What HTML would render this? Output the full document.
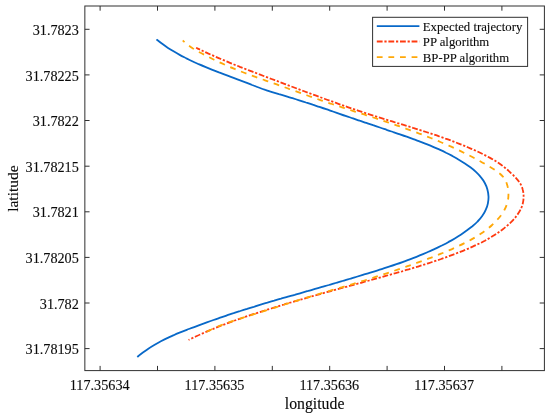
<!DOCTYPE html>
<html><head><meta charset="utf-8"><title>Trajectory</title>
<style>html,body{margin:0;padding:0;background:#fff}</style></head>
<body>
<svg width="550" height="416" viewBox="0 0 550 416" style="display:block;font-family:'Liberation Serif',serif">
<rect width="550" height="416" fill="#fff"/>
<path d="M156.5 39.4C157.5 40.2 160.2 42.4 162.2 43.8C164.1 45.2 166.0 46.6 168.0 47.9C170.0 49.2 172.0 50.4 174.0 51.6C176.0 52.8 178.1 54.0 180.1 55.1C182.2 56.3 184.3 57.3 186.4 58.4C188.5 59.4 190.7 60.5 192.8 61.5C194.9 62.5 197.1 63.4 199.3 64.4C201.4 65.3 203.6 66.2 205.8 67.1C208.0 68.0 210.2 68.9 212.4 69.8C214.6 70.7 216.8 71.5 219.0 72.4C221.2 73.2 223.4 74.1 225.6 74.9C227.8 75.7 230.0 76.6 232.2 77.4C234.4 78.2 236.6 79.1 238.8 79.9C241.0 80.7 243.3 81.6 245.5 82.4C247.7 83.3 249.9 84.1 252.1 85.0C254.3 85.8 256.5 86.7 258.7 87.5C260.9 88.3 263.1 89.1 265.4 89.9C267.6 90.6 269.8 91.4 272.1 92.1C274.4 92.8 276.6 93.5 278.9 94.2C281.1 94.8 283.4 95.5 285.7 96.2C287.9 96.9 290.2 97.5 292.5 98.2C294.7 98.9 297.0 99.6 299.2 100.3C301.5 101.0 303.8 101.7 306.0 102.5C308.2 103.2 310.5 103.9 312.7 104.7C315.0 105.4 317.2 106.2 319.5 106.9C321.7 107.7 323.9 108.5 326.2 109.2C328.4 110.0 330.6 110.7 332.9 111.5C335.1 112.3 337.3 113.1 339.6 113.8C341.8 114.6 344.0 115.4 346.3 116.1C348.5 116.9 350.8 117.6 353.0 118.4C355.2 119.2 357.5 119.9 359.7 120.7C361.9 121.4 364.2 122.2 366.4 122.9C368.7 123.7 370.9 124.4 373.1 125.2C375.4 126.0 377.6 126.7 379.9 127.5C382.1 128.2 384.3 129.0 386.6 129.8C388.8 130.5 391.0 131.3 393.3 132.1C395.5 132.8 397.7 133.6 400.0 134.4C402.2 135.2 404.4 136.0 406.7 136.7C408.9 137.5 411.1 138.3 413.3 139.1C415.6 139.9 417.8 140.8 420.0 141.6C422.2 142.4 424.4 143.3 426.6 144.1C428.8 145.0 431.0 145.9 433.1 146.8C435.3 147.7 437.5 148.7 439.6 149.6C441.8 150.6 443.9 151.6 446.0 152.7C448.1 153.7 450.2 154.8 452.3 155.9C454.3 157.1 456.4 158.2 458.4 159.5C460.5 160.7 462.5 161.9 464.5 163.2C466.5 164.5 468.5 165.9 470.4 167.3C472.3 168.7 474.1 170.2 475.9 171.9C477.6 173.5 479.3 175.2 480.8 177.1C482.3 178.9 483.7 180.9 484.8 183.0C485.9 185.0 486.8 187.2 487.4 189.5C488.0 191.7 488.4 194.1 488.5 196.4C488.6 198.7 488.4 201.0 487.9 203.3C487.5 205.5 486.7 207.8 485.7 209.9C484.8 212.1 483.6 214.1 482.2 216.1C480.9 218.0 479.3 219.8 477.6 221.5C476.0 223.2 474.2 224.8 472.4 226.3C470.5 227.8 468.6 229.2 466.7 230.6C464.7 232.0 462.8 233.4 460.8 234.7C458.8 236.0 456.8 237.2 454.8 238.4C452.8 239.6 450.7 240.8 448.6 241.9C446.6 243.1 444.5 244.2 442.4 245.3C440.2 246.3 438.1 247.4 436.0 248.4C433.8 249.4 431.7 250.4 429.5 251.3C427.4 252.3 425.2 253.2 423.0 254.1C420.8 255.0 418.7 255.9 416.5 256.8C414.3 257.7 412.1 258.5 409.9 259.3C407.7 260.2 405.4 261.0 403.2 261.8C401.0 262.6 398.8 263.4 396.5 264.1C394.3 264.9 392.1 265.7 389.8 266.4C387.6 267.2 385.3 267.9 383.1 268.6C380.8 269.3 378.6 270.1 376.3 270.8C374.1 271.5 371.8 272.2 369.5 272.9C367.3 273.6 365.0 274.2 362.8 274.9C360.5 275.6 358.2 276.3 356.0 277.0C353.7 277.7 351.4 278.3 349.2 279.0C346.9 279.7 344.6 280.3 342.4 281.0C340.1 281.7 337.8 282.3 335.6 283.0C333.3 283.7 331.0 284.3 328.8 285.0C326.5 285.6 324.2 286.3 322.0 286.9C319.7 287.6 317.4 288.3 315.1 288.9C312.9 289.6 310.6 290.2 308.3 290.9C306.1 291.5 303.8 292.2 301.5 292.8C299.2 293.5 297.0 294.1 294.7 294.8C292.4 295.4 290.1 296.1 287.9 296.7C285.6 297.4 283.3 298.0 281.0 298.7C278.8 299.3 276.5 300.0 274.2 300.7C272.0 301.3 269.7 302.0 267.4 302.7C265.2 303.3 262.9 304.0 260.6 304.7C258.4 305.4 256.1 306.1 253.8 306.8C251.6 307.4 249.3 308.1 247.1 308.9C244.8 309.6 242.6 310.3 240.3 311.0C238.1 311.7 235.8 312.4 233.6 313.2C231.3 313.9 229.1 314.7 226.9 315.4C224.6 316.2 222.4 316.9 220.2 317.7C217.9 318.5 215.7 319.3 213.5 320.0C211.2 320.8 209.0 321.6 206.8 322.4C204.6 323.2 202.3 324.0 200.1 324.8C197.9 325.6 195.7 326.5 193.5 327.3C191.2 328.1 189.0 329.0 186.8 329.8C184.6 330.7 182.4 331.5 180.2 332.4C178.0 333.3 175.8 334.2 173.7 335.2C171.5 336.1 169.4 337.1 167.2 338.1C165.1 339.1 163.0 340.2 160.9 341.3C158.8 342.4 156.8 343.5 154.7 344.7C152.7 345.9 150.7 347.1 148.7 348.4C146.7 349.7 144.8 351.1 142.9 352.5C141.0 353.9 138.2 356.2 137.3 357.0" fill="none" stroke="#0868C8" stroke-width="1.8" stroke-linejoin="round"/>
<path d="M196.1 47.8C197.2 48.3 200.2 49.8 202.3 50.7C204.3 51.7 206.4 52.6 208.5 53.6C210.5 54.5 212.6 55.4 214.7 56.3C216.8 57.2 218.9 58.1 220.9 59.0C223.0 59.9 225.1 60.8 227.2 61.6C229.3 62.5 231.4 63.4 233.5 64.2C235.6 65.1 237.7 65.9 239.8 66.8C241.9 67.6 244.0 68.4 246.2 69.3C248.3 70.1 250.4 70.9 252.5 71.7C254.6 72.5 256.7 73.3 258.9 74.2C261.0 75.0 263.1 75.8 265.2 76.6C267.4 77.4 269.5 78.2 271.6 79.0C273.7 79.8 275.9 80.6 278.0 81.4C280.1 82.2 282.2 83.0 284.4 83.8C286.5 84.6 288.6 85.4 290.7 86.2C292.9 87.0 295.0 87.8 297.1 88.6C299.2 89.4 301.4 90.2 303.5 91.0C305.6 91.8 307.7 92.6 309.9 93.4C312.0 94.2 314.1 95.0 316.2 95.7C318.4 96.5 320.5 97.3 322.6 98.1C324.8 98.9 326.9 99.7 329.0 100.4C331.2 101.2 333.3 102.0 335.4 102.7C337.6 103.5 339.7 104.3 341.8 105.0C344.0 105.8 346.1 106.5 348.3 107.3C350.4 108.0 352.6 108.7 354.7 109.5C356.9 110.2 359.0 110.9 361.2 111.6C363.3 112.4 365.5 113.1 367.6 113.8C369.8 114.5 371.9 115.2 374.1 115.9C376.3 116.6 378.4 117.2 380.6 117.9C382.8 118.6 384.9 119.3 387.1 119.9C389.3 120.6 391.4 121.2 393.6 121.9C395.8 122.6 397.9 123.2 400.1 123.9C402.3 124.5 404.5 125.2 406.6 125.9C408.8 126.5 411.0 127.2 413.1 127.9C415.3 128.5 417.5 129.2 419.6 129.9C421.8 130.6 424.0 131.3 426.1 132.0C428.3 132.7 430.5 133.4 432.6 134.1C434.8 134.8 436.9 135.5 439.1 136.3C441.2 137.0 443.4 137.8 445.5 138.6C447.6 139.3 449.8 140.1 451.9 140.9C454.0 141.7 456.1 142.5 458.2 143.4C460.4 144.2 462.5 145.0 464.6 145.9C466.7 146.8 468.7 147.7 470.8 148.6C472.9 149.5 475.0 150.4 477.0 151.3C479.1 152.3 481.1 153.3 483.2 154.3C485.2 155.3 487.2 156.3 489.2 157.4C491.2 158.4 493.2 159.6 495.1 160.7C497.0 161.9 498.9 163.2 500.8 164.5C502.6 165.8 504.4 167.2 506.1 168.7C507.9 170.2 509.6 171.7 511.2 173.3C512.9 174.9 514.6 176.5 516.1 178.2C517.6 180.0 519.1 181.7 520.2 183.6C521.4 185.5 522.3 187.7 522.8 189.9C523.4 192.1 523.6 194.5 523.6 196.7C523.6 199.0 523.3 201.3 522.8 203.5C522.3 205.6 521.5 207.7 520.5 209.7C519.6 211.6 518.3 213.5 517.0 215.3C515.7 217.2 514.2 218.9 512.6 220.6C511.1 222.2 509.3 223.8 507.6 225.3C505.9 226.8 504.0 228.3 502.2 229.7C500.3 231.1 498.5 232.4 496.6 233.6C494.7 234.9 492.7 236.1 490.8 237.3C488.8 238.5 486.9 239.6 484.9 240.7C482.9 241.7 480.9 242.8 478.8 243.8C476.8 244.7 474.8 245.7 472.7 246.6C470.6 247.6 468.6 248.5 466.5 249.3C464.4 250.2 462.3 251.1 460.2 251.9C458.1 252.7 456.0 253.5 453.9 254.3C451.7 255.1 449.6 255.9 447.5 256.7C445.4 257.5 443.2 258.2 441.1 259.0C439.0 259.7 436.8 260.5 434.7 261.2C432.5 261.9 430.4 262.6 428.2 263.3C426.0 264.0 423.9 264.7 421.7 265.4C419.6 266.1 417.4 266.7 415.2 267.4C413.0 268.1 410.9 268.7 408.7 269.4C406.5 270.0 404.3 270.6 402.1 271.3C400.0 271.9 397.8 272.5 395.6 273.2C393.4 273.8 391.2 274.4 389.0 275.0C386.8 275.6 384.7 276.2 382.5 276.8C380.3 277.5 378.1 278.1 375.9 278.7C373.7 279.3 371.5 279.9 369.3 280.5C367.1 281.1 364.9 281.7 362.7 282.3C360.6 282.9 358.4 283.5 356.2 284.1C354.0 284.7 351.8 285.3 349.6 285.9C347.4 286.5 345.2 287.1 343.0 287.7C340.9 288.3 338.7 288.9 336.5 289.5C334.3 290.1 332.1 290.7 329.9 291.3C327.7 291.9 325.6 292.5 323.4 293.1C321.2 293.7 319.0 294.4 316.8 295.0C314.6 295.6 312.5 296.2 310.3 296.8C308.1 297.5 305.9 298.1 303.7 298.7C301.6 299.3 299.4 300.0 297.2 300.6C295.0 301.3 292.9 301.9 290.7 302.5C288.5 303.2 286.3 303.8 284.2 304.5C282.0 305.1 279.8 305.8 277.7 306.5C275.5 307.1 273.3 307.8 271.2 308.5C269.0 309.1 266.8 309.8 264.7 310.5C262.5 311.2 260.3 311.9 258.2 312.6C256.0 313.3 253.8 314.0 251.7 314.7C249.5 315.4 247.4 316.1 245.2 316.9C243.1 317.6 240.9 318.3 238.8 319.1C236.7 319.9 234.5 320.6 232.4 321.4C230.3 322.2 228.1 323.0 226.0 323.8C223.9 324.6 221.8 325.4 219.7 326.2C217.5 327.1 215.4 327.9 213.3 328.8C211.2 329.6 209.2 330.5 207.1 331.4C205.0 332.3 202.9 333.2 200.9 334.2C198.8 335.1 196.7 336.1 194.7 337.0C192.6 338.0 189.6 339.5 188.6 340.0" fill="none" stroke="#FF3A10" stroke-width="1.8" stroke-dasharray="5.8 1.8 2.2 1.8" stroke-dashoffset="1.5" stroke-linejoin="round"/>
<path d="M182.7 40.5C183.5 41.2 186.0 43.4 187.7 44.7C189.4 46.1 191.2 47.3 193.0 48.5C194.9 49.6 196.7 50.7 198.6 51.8C200.5 52.8 202.5 53.8 204.4 54.8C206.3 55.9 208.3 56.8 210.2 57.8C212.1 58.8 214.1 59.7 216.1 60.7C218.0 61.6 220.0 62.5 222.0 63.4C223.9 64.3 225.9 65.2 227.9 66.1C229.9 67.0 231.9 67.8 233.9 68.6C235.9 69.5 237.9 70.3 239.9 71.1C242.0 71.9 244.0 72.7 246.0 73.4C248.1 74.2 250.1 74.9 252.2 75.7C254.2 76.4 256.2 77.2 258.3 77.9C260.3 78.6 262.4 79.4 264.5 80.1C266.5 80.8 268.6 81.5 270.6 82.3C272.7 83.0 274.7 83.7 276.8 84.4C278.8 85.2 280.9 85.9 282.9 86.6C285.0 87.4 287.0 88.1 289.0 88.9C291.1 89.6 293.1 90.3 295.2 91.1C297.2 91.8 299.3 92.6 301.3 93.3C303.3 94.0 305.4 94.8 307.4 95.5C309.5 96.2 311.5 97.0 313.6 97.7C315.6 98.4 317.7 99.1 319.7 99.8C321.8 100.5 323.8 101.3 325.9 102.0C328.0 102.7 330.0 103.4 332.1 104.0C334.2 104.7 336.2 105.4 338.3 106.1C340.3 106.8 342.4 107.5 344.5 108.1C346.6 108.8 348.6 109.5 350.7 110.2C352.8 110.8 354.8 111.5 356.9 112.2C359.0 112.9 361.0 113.5 363.1 114.2C365.2 114.9 367.3 115.5 369.3 116.2C371.4 116.9 373.5 117.6 375.5 118.2C377.6 118.9 379.7 119.6 381.7 120.3C383.8 121.0 385.9 121.7 387.9 122.4C390.0 123.1 392.0 123.8 394.1 124.5C396.2 125.2 398.2 125.9 400.3 126.6C402.3 127.3 404.4 128.0 406.4 128.8C408.5 129.5 410.5 130.3 412.5 131.0C414.6 131.8 416.6 132.5 418.6 133.3C420.7 134.0 422.7 134.8 424.7 135.6C426.8 136.4 428.8 137.2 430.8 138.0C432.8 138.8 434.8 139.6 436.8 140.5C438.8 141.3 440.8 142.2 442.8 143.0C444.8 143.9 446.8 144.8 448.8 145.6C450.8 146.5 452.8 147.4 454.7 148.3C456.7 149.3 458.7 150.2 460.6 151.1C462.6 152.1 464.5 153.1 466.5 154.0C468.4 155.0 470.4 156.0 472.3 157.0C474.2 158.0 476.2 159.1 478.1 160.1C480.0 161.2 481.9 162.2 483.8 163.3C485.7 164.4 487.6 165.5 489.5 166.7C491.4 167.8 493.3 168.9 495.1 170.1C496.9 171.4 498.7 172.6 500.3 174.0C501.8 175.4 503.3 176.9 504.5 178.6C505.6 180.4 506.4 182.3 507.0 184.4C507.7 186.4 508.1 188.7 508.3 190.9C508.5 193.1 508.5 195.5 508.3 197.7C508.1 199.9 507.6 202.1 506.9 204.1C506.3 206.2 505.4 208.1 504.4 210.0C503.4 211.9 502.2 213.7 500.9 215.5C499.6 217.2 498.2 218.9 496.7 220.4C495.2 222.0 493.7 223.6 492.1 225.0C490.5 226.5 488.8 227.9 487.1 229.2C485.4 230.5 483.7 231.8 481.9 233.0C480.1 234.3 478.3 235.5 476.4 236.6C474.5 237.7 472.6 238.8 470.7 239.9C468.8 240.9 466.9 242.0 464.9 242.9C463.0 243.9 461.0 244.9 459.0 245.8C457.0 246.8 455.0 247.7 453.0 248.6C451.1 249.5 449.1 250.3 447.1 251.2C445.1 252.0 443.1 252.9 441.0 253.7C439.0 254.5 437.0 255.3 435.0 256.1C433.0 256.9 431.0 257.7 428.9 258.4C426.9 259.2 424.9 260.0 422.8 260.7C420.8 261.4 418.8 262.2 416.7 262.9C414.7 263.7 412.6 264.4 410.6 265.1C408.5 265.8 406.5 266.6 404.4 267.3C402.4 268.0 400.3 268.7 398.3 269.4C396.2 270.1 394.1 270.8 392.1 271.5C390.0 272.2 388.0 272.9 385.9 273.6C383.8 274.3 381.8 275.0 379.7 275.6C377.6 276.3 375.5 277.0 373.5 277.6C371.4 278.3 369.3 279.0 367.2 279.6C365.2 280.3 363.1 280.9 361.0 281.5C358.9 282.2 356.8 282.8 354.8 283.4C352.7 284.1 350.6 284.7 348.5 285.3C346.4 285.9 344.3 286.5 342.2 287.2C340.2 287.8 338.1 288.4 336.0 289.0C333.9 289.6 331.8 290.2 329.7 290.8C327.6 291.4 325.6 292.0 323.5 292.6C321.4 293.3 319.3 293.9 317.2 294.5C315.1 295.1 313.0 295.7 311.0 296.3C308.9 297.0 306.8 297.6 304.7 298.2C302.6 298.9 300.6 299.5 298.5 300.1C296.4 300.8 294.3 301.4 292.2 302.1C290.2 302.7 288.1 303.4 286.0 304.0C283.9 304.7 281.9 305.3 279.8 306.0C277.7 306.6 275.6 307.3 273.6 308.0C271.5 308.6 269.4 309.3 267.3 309.9C265.3 310.6 263.2 311.3 261.1 311.9C259.0 312.6 257.0 313.2 254.9 313.9C252.8 314.5 250.7 315.2 248.7 315.8C246.6 316.4 244.5 317.1 242.4 317.8C240.4 318.4 238.3 319.1 236.2 319.8C234.2 320.4 232.1 321.1 230.1 321.9C228.0 322.6 226.0 323.3 223.9 324.1C221.9 324.9 219.9 325.7 217.9 326.5C215.9 327.4 213.9 328.3 211.9 329.2C209.9 330.1 207.0 331.6 206.0 332.1" fill="none" stroke="#FFA808" stroke-width="1.8" stroke-dasharray="5.8 5.8" stroke-dashoffset="3.3" stroke-linejoin="round"/>
<rect x="84.85" y="6.0" width="459.55" height="364.60" fill="none" stroke="#303030" stroke-width="1"/>
<path d="M100.1 370.6v-4.7M100.1 6.0v4.7M157.5 370.6v-4.7M157.5 6.0v4.7M214.9 370.6v-4.7M214.9 6.0v4.7M272.3 370.6v-4.7M272.3 6.0v4.7M329.7 370.6v-4.7M329.7 6.0v4.7M387.1 370.6v-4.7M387.1 6.0v4.7M444.5 370.6v-4.7M444.5 6.0v4.7M501.9 370.6v-4.7M501.9 6.0v4.7M84.85 29.3h4.7M544.4 29.3h-4.7M84.85 74.9h4.7M544.4 74.9h-4.7M84.85 120.5h4.7M544.4 120.5h-4.7M84.85 166.2h4.7M544.4 166.2h-4.7M84.85 211.8h4.7M544.4 211.8h-4.7M84.85 257.4h4.7M544.4 257.4h-4.7M84.85 303.0h4.7M544.4 303.0h-4.7M84.85 348.6h4.7M544.4 348.6h-4.7" fill="none" stroke="#303030" stroke-width="1"/>
<g fill="#0a0a0a" stroke="#0a0a0a" stroke-width="0.12" font-size="14.2px">
<text x="99.7" y="390.4" text-anchor="middle">117.35634</text>
<text x="214.5" y="390.4" text-anchor="middle">117.35635</text>
<text x="329.3" y="390.4" text-anchor="middle">117.35636</text>
<text x="444.1" y="390.4" text-anchor="middle">117.35637</text>
<text x="78.8" y="34.9" text-anchor="end">31.7823</text>
<text x="78.8" y="80.5" text-anchor="end">31.78225</text>
<text x="78.8" y="126.1" text-anchor="end">31.7822</text>
<text x="78.8" y="171.8" text-anchor="end">31.78215</text>
<text x="78.8" y="217.4" text-anchor="end">31.7821</text>
<text x="78.8" y="263.0" text-anchor="end">31.78205</text>
<text x="78.8" y="308.6" text-anchor="end">31.782</text>
<text x="78.8" y="354.2" text-anchor="end">31.78195</text>
</g>
<text x="314.6" y="409" text-anchor="middle" font-size="15.8px" fill="#0a0a0a" stroke="#0a0a0a" stroke-width="0.12">longitude</text>
<text transform="translate(18.0 188.6) rotate(-90)" text-anchor="middle" font-size="15.5px" fill="#0a0a0a" stroke="#0a0a0a" stroke-width="0.12">latitude</text>
<rect x="372.6" y="17.3" width="155.0" height="49.1" fill="#fff" stroke="#303030" stroke-width="1"/>
<path d="M376.8 26.2H419.4" stroke="#0868C8" stroke-width="1.8"/>
<path d="M376.8 41.5H419.4" stroke="#FF3A10" stroke-width="1.8" stroke-dasharray="5.8 1.8 2.2 1.8"/>
<path d="M376.8 57.1H419.4" stroke="#FFA808" stroke-width="1.8" stroke-dasharray="5.8 5.8"/>
<g fill="#0a0a0a" stroke="#0a0a0a" stroke-width="0.1" font-size="12.75px">
<text x="422.8" y="30.6">Expected trajectory</text>
<text x="422.8" y="46.2">PP algorithm</text>
<text x="422.8" y="61.8">BP-PP algorithm</text>
</g>
</svg>
</body></html>
